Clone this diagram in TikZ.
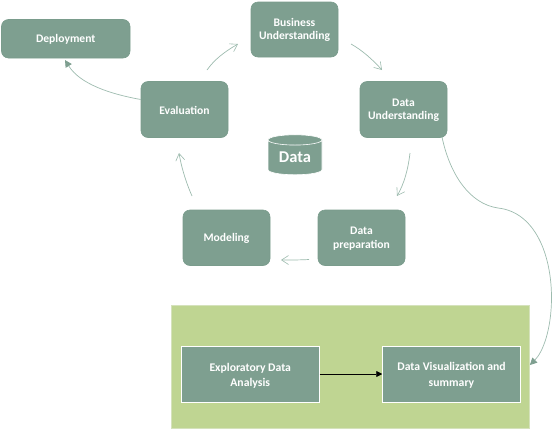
\documentclass[tikz,border=0pt]{standalone}
\usepackage{fontspec}
\setmainfont{Carlito}
\usetikzlibrary{arrows.meta,shapes.geometric}
\definecolor{boxfill}{HTML}{7E9F90}
\definecolor{boxedge}{HTML}{7A9C8C}
\definecolor{linkc}{HTML}{9DBBAE}
\definecolor{panel}{HTML}{BFD592}
\definecolor{paneledge}{HTML}{D5E2BC}
\newcommand{\dn}{\rule{0pt}{9.4pt}}
\tikzset{
  rbox/.style={draw=boxedge,fill=boxfill,rounded corners=7pt,line width=.6pt,text=white,
    align=center,inner sep=0pt,font=\bfseries\fontsize{11.6}{13.4}\selectfont},
  sbox/.style={draw=white,fill=boxfill,line width=1pt,text=white,
    align=center,inner sep=0pt,font=\bfseries\fontsize{11.7}{15.5}\selectfont},
  openlink/.style={draw=linkc,line width=.7pt,-{Straight Barb[length=7pt,width=9pt,line width=.6pt]}},
  solidlink/.style={draw=linkc,line width=.7pt,-{Triangle[length=7pt,width=7pt,fill=boxfill,color=boxfill]}},
}
\begin{document}
\begin{tikzpicture}[x=1pt,y=-1pt]
\useasboundingbox (0,0) rectangle (552,429);
\node[rbox,minimum width=128.5pt,minimum height=38.5pt] (deploy) at (65.75,38.75) {\dn Deployment};
\node[rbox,minimum width=87pt,minimum height=55pt] (biz) at (294.5,29.5) {\dn Business\\Understanding};
\node[rbox,minimum width=87pt,minimum height=56pt] (du) at (403.5,109.5) {\dn Data\\Understanding};
\node[rbox,minimum width=87pt,minimum height=56pt] (eval) at (184.5,109.5) {\dn Evaluation};
\node[rbox,minimum width=87pt,minimum height=55.5pt] (model) at (226.5,237.75) {\dn Modeling};
\node[rbox,minimum width=87pt,minimum height=55.5pt] (prep) at (361.5,237.75) {\dn Data\\preparation};
\node[draw=paneledge,fill=panel,line width=.8pt,minimum width=358.5pt,minimum height=123pt,inner sep=0pt] (panelbox) at (350.25,366.5) {};
\node[sbox,minimum width=137.5pt,minimum height=56pt] (eda) at (250.25,374) {\rule{0pt}{12pt}Exploratory Data\\Analysis};
\node[sbox,minimum width=137.5pt,minimum height=56pt] (dv) at (451.5,374) {\rule{0pt}{10.6pt}Data Visualization and\\summary};
\node[cylinder,shape border rotate=90,aspect=.32,draw=white,fill=boxfill,line width=.6pt,
  minimum width=54pt,minimum height=40pt,inner sep=0pt,text=white,
  font=\bfseries\fontsize{16.5}{18}\selectfont] (data) at (295,157.5) {\raisebox{-5pt}{Data}};
\coordinate (e1) at (65,60);
\coordinate (a2s) at (207,70);
\coordinate (a2e) at (238,44);
\coordinate (a3s) at (351,44);
\coordinate (a3e) at (382,70);
\coordinate (a4s) at (410,153);
\coordinate (a4e) at (397,196);
\coordinate (a5s) at (309,259.5);
\coordinate (a5e) at (281,260);
\coordinate (a6s) at (192,196);
\coordinate (a6e) at (179,153);
\coordinate (b1) at (442,137);
\coordinate (b2) at (498,208);
\draw[solidlink] (eval.west |- 0,99.5) .. controls (110,94) and (80,84) .. (e1);
\draw[openlink] (a2s) .. controls (214,60) and (224,52) .. (a2e);
\draw[openlink] (a3s) .. controls (362,50) and (373,60) .. (a3e);
\draw[openlink] (a4s) .. controls (408,170) and (404,184) .. (a4e);
\draw[openlink] (a5s) .. controls (300,260) and (292,260) .. (a5e);
\draw[openlink] (a6s) .. controls (185,180) and (181,165) .. (a6e);
\draw[solidlink] (b1) .. controls (450,175) and (470,204) .. (b2)
  .. controls (535,212) and (552,255) .. (551.5,300) .. controls (551,330) and (543,352) .. (panelbox.east |- 0,365);
\draw[draw=black,line width=.8pt,-{Triangle[length=6pt,width=6pt]}] (eda) -- (dv);
\end{tikzpicture}
\end{document}
